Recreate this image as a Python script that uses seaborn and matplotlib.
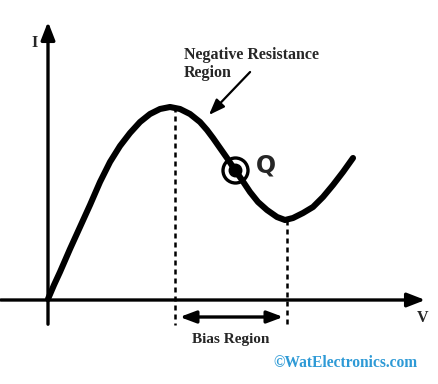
import matplotlib
matplotlib.use("Agg")
import matplotlib.pyplot as plt
import seaborn as sns
import pandas as pd

sns.set_theme(style="white")
plt.rcParams['font.family'] = ['Liberation Serif', 'DejaVu Serif']

# Tunnel diode I-V characteristic (arbitrary units)
voltage = [0.00, 0.06, 0.12, 0.22, 0.32, 0.42, 0.52, 0.62, 0.72, 0.82, 0.92, 1.02,
           1.12, 1.22, 1.32, 1.42, 1.52, 1.59, 1.65, 1.72, 1.79, 1.87, 1.94, 2.02,
           2.10, 2.19, 2.29, 2.37, 2.45, 2.55, 2.65, 2.75, 2.85, 2.95, 3.05]
current = [0.01, 0.15, 0.28, 0.51, 0.73, 0.95, 1.18, 1.38, 1.54, 1.67, 1.78, 1.86,
           1.91, 1.93, 1.91, 1.86, 1.78, 1.70, 1.62, 1.52, 1.42, 1.30, 1.20, 1.08,
           0.98, 0.90, 0.83, 0.80, 0.82, 0.87, 0.93, 1.03, 1.15, 1.28, 1.42]
peak_v, peak_i = 1.27, 1.93
valley_v, valley_i = 2.39, 0.80
q_v, q_i = 1.87, 1.30
axis_labels = ["I", "V"]
annotations = ["Negative Resistance\nRegion", "Bias Region", "Q"]
watermark = "©WatElectronics.com"

df = pd.DataFrame({"V": voltage, "I": current})

fig = plt.figure(figsize=(4.39, 3.84), dpi=100)
ax = fig.add_axes([0, 0, 1, 1])
ax.set_xlim(-0.48, 3.91)
ax.set_ylim(-0.84, 3.00)
ax.axis("off")

# Axes with arrows
ax.annotate("", xy=(3.80, 0), xytext=(-0.50, 0),
            arrowprops=dict(arrowstyle="-|>,head_length=0.9,head_width=0.35", lw=2.4, color="black"))
ax.annotate("", xy=(0, 2.81), xytext=(0, -0.27),
            arrowprops=dict(arrowstyle="-|>,head_length=0.9,head_width=0.35", lw=2.4, color="black"))

# Curve
sns.lineplot(data=df, x="V", y="I", ax=ax, color="black", lw=4.4, sort=False,
             solid_capstyle="round", solid_joinstyle="round")

# Dashed verticals
for v, i in [(peak_v, peak_i), (valley_v, valley_i)]:
    ax.plot([v, v], [i, -0.25], color="black", lw=1.8, ls=(0, (2, 1.6)))

# Bias region double arrow
ax.annotate("", xy=(peak_v + 0.02, -0.17), xytext=(valley_v - 0.01, -0.17),
            arrowprops=dict(arrowstyle="<|-|>,head_length=0.8,head_width=0.3", lw=2.4, color="black"))

# Q point
ax.plot([q_v], [q_i], marker="o", ms=18, mfc="none", mec="black", mew=2.4)
ax.plot([q_v], [q_i], marker="o", ms=9, color="black")
ax.text(2.08, 1.34, annotations[2], fontsize=17, fontweight="semibold", family=["DejaVu Sans"],
        ha="left", va="center")

# Negative resistance annotation arrow
ax.annotate("", xy=(1.59, 1.83), xytext=(2.04, 2.30),
            arrowprops=dict(arrowstyle="-|>,head_length=0.8,head_width=0.3", lw=1.6, color="black"))
ax.text(1.36, 2.36, annotations[0], fontsize=11.5, fontweight="bold", ha="left", va="center",
        linespacing=1.2)

ax.text(-0.13, 2.57, axis_labels[0], fontsize=11.5, fontweight="bold", ha="center", va="center")
ax.text(3.75, -0.18, axis_labels[1], fontsize=11.5, fontweight="bold", ha="center", va="center")
ax.text(1.83, -0.39, annotations[1], fontsize=11, fontweight="bold", ha="center", va="center")
ax.text(2.97, -0.63, watermark, fontsize=11.2, fontweight="bold", color="#2e9ad6",
        ha="center", va="center")

fig.savefig("out.png", dpi=100, facecolor="white")
